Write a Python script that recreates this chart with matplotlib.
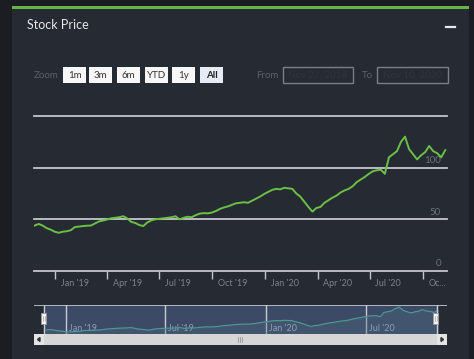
import numpy as np
import pandas as pd
import matplotlib
matplotlib.use("Agg")
import matplotlib.pyplot as plt
from matplotlib.patches import Rectangle

W, H = 474, 359
plt.rcParams['font.family'] = ['Lato', 'DejaVu Sans']

# weekly closing prices, starting 2018-11-26
prices = [44, 45.5, 44, 41.5, 40, 38, 37, 38, 38.5, 39.5,
          42.5, 43, 43.5, 43.8, 44, 46, 48, 48.8, 49.8, 51,
          51.5, 52, 53, 51, 47.5, 46.5, 44.5, 43.5, 47, 49,
          50, 50.5, 51, 51.5, 52, 53, 50, 51.5, 52.5, 52,
          54, 55.5, 56, 55.8, 56.5, 58, 60, 61.5, 62.5, 64,
          65.5, 66, 66.5, 66, 68, 70, 72, 74.5, 76.5, 78.5,
          79.5, 79, 80.5, 80, 79.5, 75, 72, 67, 62, 57.5,
          61, 62, 66, 68.5, 71, 73, 76, 78, 79.5, 82,
          86, 88.5, 91, 94, 96.5, 97.5, 98, 94, 110, 113,
          116, 125, 130, 118, 113, 108, 112, 115, 121, 116,
          114, 110, 117]
dates = pd.date_range("2018-11-26", periods=len(prices), freq="7D")

grid_vals = [0, 50, 100, 150]
y_labels = [0, 50, 100]
x_ticks = ["2019-01-01", "2019-04-01", "2019-07-01", "2019-10-01",
           "2020-01-01", "2020-04-01", "2020-07-01", "2020-10-01"]
x_labels = ["Jan '19", "Apr '19", "Jul '19", "Oct '19",
            "Jan '20", "Apr '20", "Jul '20", "Oc..."]
nav_ticks = ["2019-01-01", "2019-07-01", "2020-01-01", "2020-07-01"]
nav_labels = ["Jan '19", "Jul '19", "Jan '20", "Jul '20"]
buttons = ["1m", "3m", "6m", "YTD", "1y", "All"]

BG = "#1c1d22"
PANEL = "#262a33"
GREEN = "#6abf45"


def rect(x0, y0, x1, y1):
    return [x0 / W, 1 - y1 / H, (x1 - x0) / W, (y1 - y0) / H]


def ftext(x, y, s, **kw):
    fig.text(x / W, 1 - y / H, s, **kw)


fig = plt.figure(figsize=(W / 100, H / 100), dpi=100, facecolor=BG)

# panel background + green top border
bg = fig.add_axes([0, 0, 1, 1])
bg.set_xlim(0, W)
bg.set_ylim(H, 0)
bg.axis("off")
bg.add_patch(Rectangle((12, 6), 457, 360, facecolor=PANEL, edgecolor="none"))
bg.add_patch(Rectangle((12, 6), 457, 3, facecolor="#63b548", edgecolor="none"))
bg.plot([446, 455], [27, 27], color="#e8e8e8", lw=1.6)
ftext(27, 25, "Stock Price", color="#e6e6e6", fontsize=9, va="center")

# range selector
ftext(34, 75, "Zoom", color="#5b606a", fontsize=7, va="center")
bx = [(63, 86), (89, 112), (117, 140), (145, 168), (172, 195), (200, 223)]
for (x0, x1), lab in zip(bx, buttons):
    sel = lab == "All"
    bg.add_patch(Rectangle((x0, 67), x1 - x0, 16,
                           facecolor="#e6ebf5" if sel else "#f7f7f7", edgecolor="none"))
    ftext((x0 + x1) / 2, 75, lab, color="#222222" if sel else "#333333",
          fontsize=7, ha="center", va="center", fontweight="bold" if sel else "normal")
ftext(256, 75, "From", color="#5b606a", fontsize=7, va="center")
ftext(362, 75, "To", color="#5b606a", fontsize=7, va="center")
for x0, x1, s in [(283, 353, "Nov 27, 2018"), (377, 448, "Nov 10, 2020")]:
    bg.add_patch(Rectangle((x0, 67), x1 - x0, 16, facecolor="none",
                           edgecolor="#7a7e86", lw=1))
    ftext((x0 + x1) / 2, 75, s, color="#30343d", fontsize=7, ha="center", va="center")

# main chart
x_lo, x_hi = pd.Timestamp("2018-11-25"), pd.Timestamp("2020-11-12")
ax = fig.add_axes(rect(34, 100, 447, 271))
ax.set_facecolor("none")
ax.set_xlim(x_lo, x_hi)
ax.set_ylim(0, (271 - 100) / ((271 - 116) / 150))
for s in ax.spines.values():
    s.set_visible(False)
for v in grid_vals:
    ax.axhline(v, color="#c4c6ca", lw=1.3, zorder=1, clip_on=False)
for v in y_labels:
    ax.text(0.985, v + 2.5, str(v), transform=ax.get_yaxis_transform(),
            color="#6c717a", fontsize=7, ha="right", va="bottom")
ax.plot(dates, prices, color=GREEN, lw=1.4, zorder=3)
ax.set_yticks([])
xt = pd.to_datetime(x_ticks)
ax.set_xticks(xt)
ax.set_xticklabels([])
ax.tick_params(axis="x", length=6, width=1, color="#c4c6ca", pad=2)
for t, lab in zip(xt, x_labels):
    ax.annotate(lab, (t, 0), xytext=(4, -6), textcoords="offset points",
                color="#7d828b", fontsize=6.5, ha="left", va="top")

# navigator
n_lo, n_hi = pd.Timestamp("2018-11-04"), pd.Timestamp("2020-11-26")
nav = fig.add_axes(rect(34, 305, 447, 334))
nav.set_xlim(n_lo, n_hi)
nav.set_ylim(29, 138)
nav.set_facecolor("#2c3341")
nav.axis("off")
h0, h1 = pd.Timestamp("2018-11-22"), pd.Timestamp("2020-11-08")
nav.axvspan(h0, h1, color="#3d4a66", zorder=0)
for t, lab in zip(pd.to_datetime(nav_ticks), nav_labels):
    nav.axvline(t, color="#c8cbd2", lw=1, zorder=1)
    nav.annotate(lab, (t, 29), xytext=(2, 1), textcoords="offset points",
                 color="#8f9bb5", fontsize=6.5, ha="left", va="bottom")
nav.fill_between(dates, prices, 29, color="#4a6e7e", alpha=0.35, zorder=2)
nav.plot(dates, prices, color="#4f9a94", lw=0.8, zorder=3)
nav.axhline(138, color="#c8cbd2", lw=1.2, zorder=4)
for h in (h0, h1):
    nav.axvline(h, color="#c8cbd2", lw=1, zorder=4)

# navigator handles and scrollbar, on an overlay on top of everything
top = fig.add_axes([0, 0, 1, 1])
top.set_xlim(0, W)
top.set_ylim(H, 0)
top.axis("off")
top.patch.set_visible(False)
for hx in (44, 436):
    top.add_patch(Rectangle((hx - 2.5, 313), 5, 11, facecolor="#f2f2f2",
                            edgecolor="#999999", lw=0.6))
    top.plot([hx - 0.7, hx - 0.7], [316, 321], color="#888888", lw=0.4)
    top.plot([hx + 0.7, hx + 0.7], [316, 321], color="#888888", lw=0.4)
top.add_patch(Rectangle((34, 334), 413, 11, facecolor="#d6d6d6", edgecolor="none"))
top.add_patch(Rectangle((34, 334), 10, 11, facecolor="#e4e4e4", edgecolor="none"))
top.add_patch(Rectangle((437, 334), 10, 11, facecolor="#e4e4e4", edgecolor="none"))
top.fill([40, 37.5, 40], [337.5, 339.5, 341.5], color="#333333")
top.fill([441, 443.5, 441], [337.5, 339.5, 341.5], color="#333333")
for gx in (238, 240, 242):
    top.plot([gx, gx], [337, 342], color="#888888", lw=0.5)

fig.savefig("out.png", dpi=100, facecolor=BG)
